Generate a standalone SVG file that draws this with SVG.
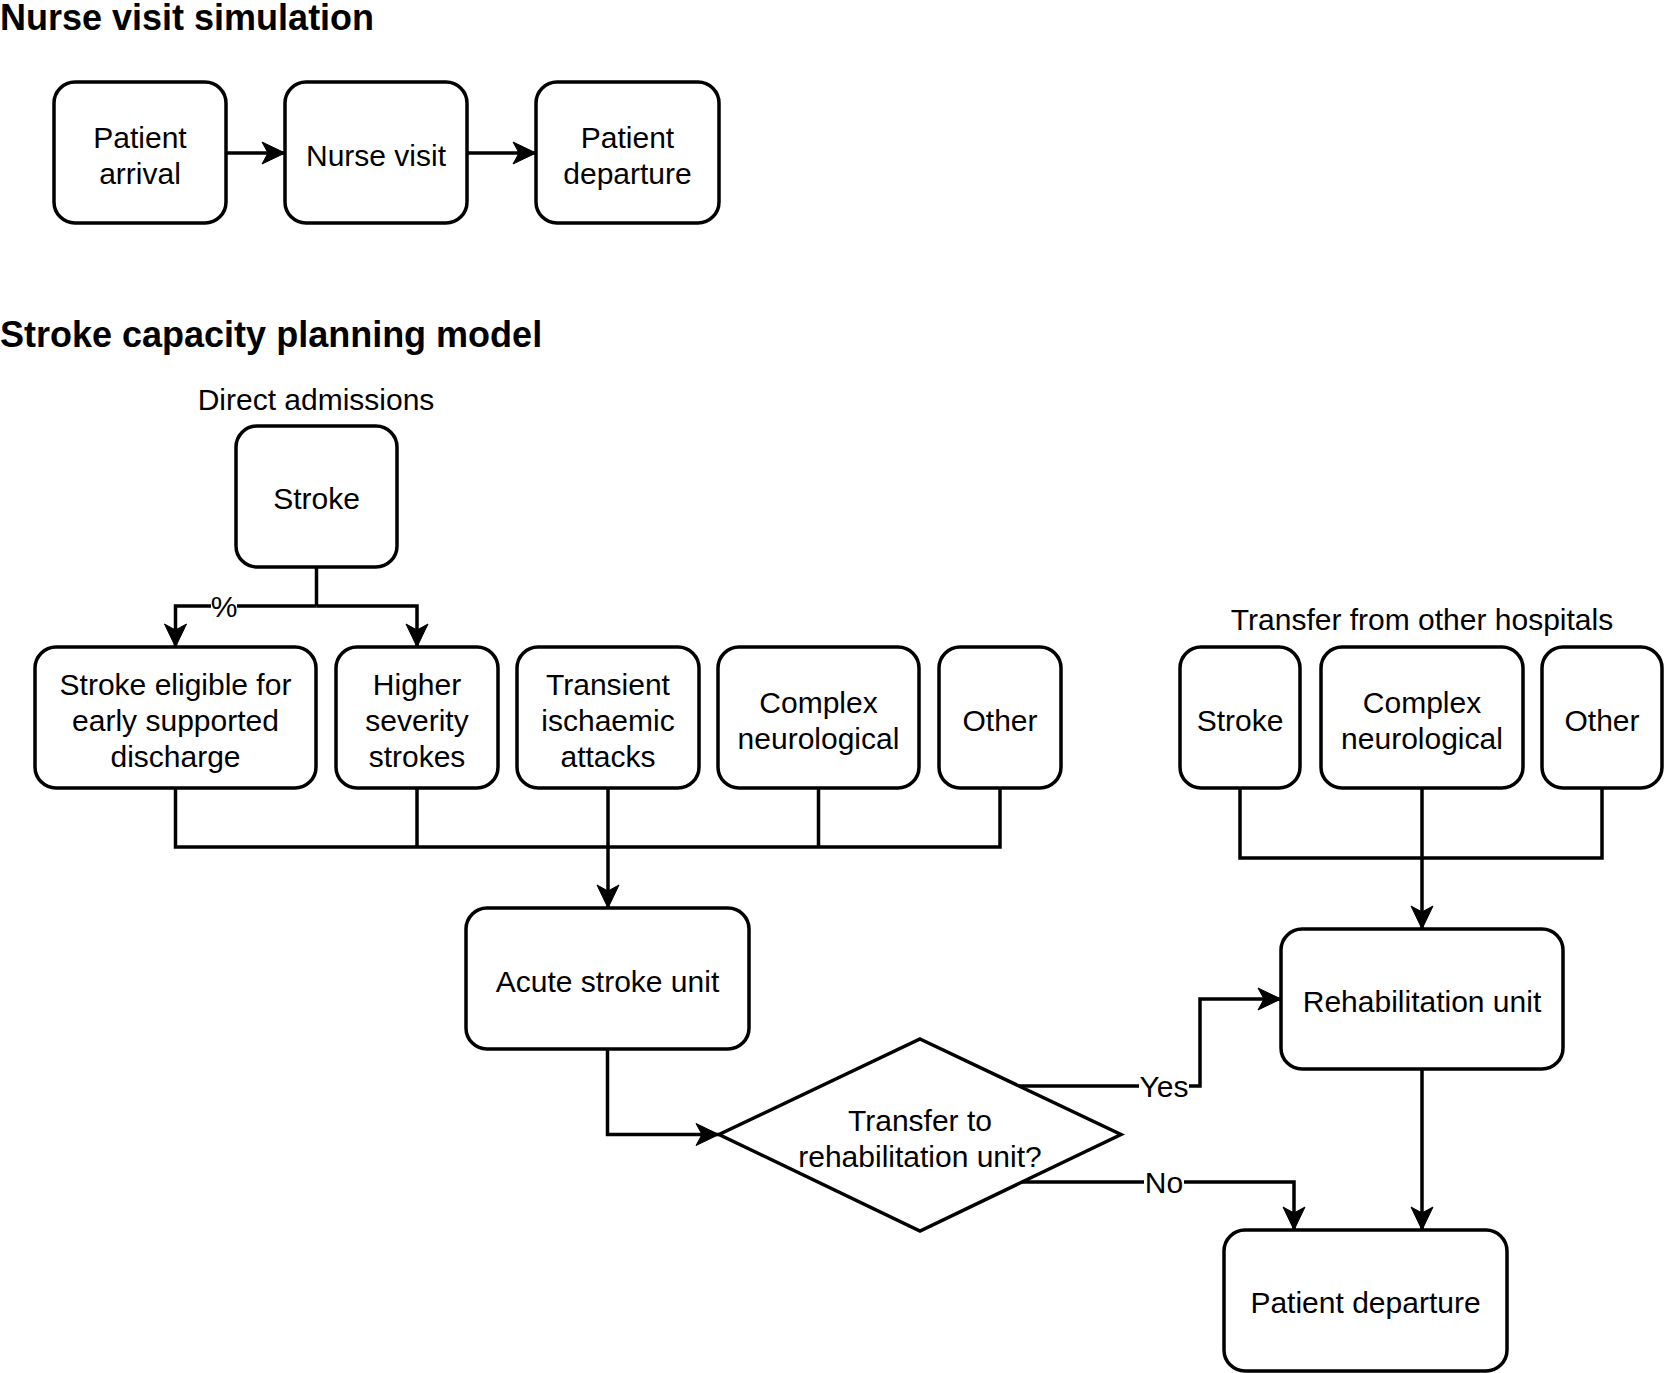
<svg xmlns="http://www.w3.org/2000/svg" width="1665" height="1373" viewBox="0 0 1665 1373">
<style>
  .box { fill: #ffffff; stroke: #000000; stroke-width: 3.5; }
  .t { font-family: "Liberation Sans", Arial, sans-serif; font-size: 30px; fill: #000000; text-anchor: middle; }
  .title { font-family: "Liberation Sans", Arial, sans-serif; font-size: 36px; font-weight: bold; fill: #000000; }
  .lbl { font-family: "Liberation Sans", Arial, sans-serif; font-size: 30px; fill: #000000; text-anchor: middle; }
  .edge { fill: none; stroke: #000000; stroke-width: 3.5; }
  .arr { marker-end: url(#ah); }
</style>
<defs>
  <marker id="ah" viewBox="-1 -12 26 24" markerUnits="userSpaceOnUse" markerWidth="26" markerHeight="24" refX="23" refY="0" orient="auto">
    <path d="M0,-11 L23,0 L0,11 L6,0 Z" fill="#000000" stroke="#000000" stroke-width="1" stroke-linejoin="miter"/>
  </marker>
</defs>
<rect width="1665" height="1373" fill="#ffffff"/>

<text class="title" x="0" y="30">Nurse visit simulation</text>
<text class="title" x="0" y="347">Stroke capacity planning model</text>
<text class="t" x="316" y="410">Direct admissions</text>
<text class="t" x="1422" y="630">Transfer from other hospitals</text>

<g id="connectors">
  <path class="edge arr" d="M226,153 L285,153"/>
  <path class="edge arr" d="M467,153 L536,153"/>
  <path class="edge" d="M316.5,567 L316.5,606"/>
  <path class="edge arr" d="M316.5,606 L175.5,606 L175.5,647"/>
  <path class="edge arr" d="M316.5,606 L417,606 L417,647"/>
  <path class="edge" d="M175.5,788 L175.5,847 L1000,847 L1000,788"/>
  <path class="edge" d="M417,788 L417,847"/>
  <path class="edge" d="M818.5,788 L818.5,847"/>
  <path class="edge arr" d="M608,788 L608,908"/>
  <path class="edge" d="M1240,788 L1240,858 L1602,858 L1602,788"/>
  <path class="edge arr" d="M1422,788 L1422,929"/>
  <path class="edge arr" d="M607.5,1049 L607.5,1134.5 L719,1134.5"/>
  <path class="edge arr" d="M1019,1086 L1200,1086 L1200,999 L1281,999"/>
  <path class="edge arr" d="M1022,1182 L1294,1182 L1294,1230"/>
  <path class="edge arr" d="M1422,1069 L1422,1230"/>
  <rect x="211" y="592" width="26" height="28" fill="#ffffff"/>
  <text class="lbl" x="224" y="617">%</text>
  <rect x="1139" y="1072" width="50" height="28" fill="#ffffff"/>
  <text class="lbl" x="1164" y="1097">Yes</text>
  <rect x="1144" y="1168" width="40" height="28" fill="#ffffff"/>
  <text class="lbl" x="1164" y="1193">No</text>
</g>

<g id="patient-arrival">
  <rect class="box" x="54" y="82" width="172" height="141" rx="21"/>
  <text class="t" x="140" y="148">Patient</text>
  <text class="t" x="140" y="184">arrival</text>
</g>
<g id="nurse-visit">
  <rect class="box" x="285" y="82" width="182" height="141" rx="21"/>
  <text class="t" x="376" y="166">Nurse visit</text>
</g>
<g id="patient-departure-1">
  <rect class="box" x="536" y="82" width="183" height="141" rx="21"/>
  <text class="t" x="627.5" y="148">Patient</text>
  <text class="t" x="627.5" y="184">departure</text>
</g>

<g id="stroke-direct">
  <rect class="box" x="236" y="426" width="161" height="141" rx="21"/>
  <text class="t" x="316.5" y="509">Stroke</text>
</g>
<g id="stroke-esd">
  <rect class="box" x="35" y="647" width="281" height="141" rx="21"/>
  <text class="t" x="175.5" y="695">Stroke eligible for</text>
  <text class="t" x="175.5" y="731">early supported</text>
  <text class="t" x="175.5" y="767">discharge</text>
</g>
<g id="higher-severity">
  <rect class="box" x="336" y="647" width="162" height="141" rx="21"/>
  <text class="t" x="417" y="695">Higher</text>
  <text class="t" x="417" y="731">severity</text>
  <text class="t" x="417" y="767">strokes</text>
</g>
<g id="tia">
  <rect class="box" x="517" y="647" width="182" height="141" rx="21"/>
  <text class="t" x="608" y="695">Transient</text>
  <text class="t" x="608" y="731">ischaemic</text>
  <text class="t" x="608" y="767">attacks</text>
</g>
<g id="complex-direct">
  <rect class="box" x="718" y="647" width="201" height="141" rx="21"/>
  <text class="t" x="818.5" y="713">Complex</text>
  <text class="t" x="818.5" y="749">neurological</text>
</g>
<g id="other-direct">
  <rect class="box" x="939" y="647" width="122" height="141" rx="21"/>
  <text class="t" x="1000" y="731">Other</text>
</g>

<g id="stroke-transfer">
  <rect class="box" x="1180" y="647" width="120" height="141" rx="21"/>
  <text class="t" x="1240" y="731">Stroke</text>
</g>
<g id="complex-transfer">
  <rect class="box" x="1321" y="647" width="202" height="141" rx="21"/>
  <text class="t" x="1422" y="713">Complex</text>
  <text class="t" x="1422" y="749">neurological</text>
</g>
<g id="other-transfer">
  <rect class="box" x="1542" y="647" width="120" height="141" rx="21"/>
  <text class="t" x="1602" y="731">Other</text>
</g>

<g id="acute-stroke-unit">
  <rect class="box" x="466" y="908" width="283" height="141" rx="21"/>
  <text class="t" x="607.5" y="992">Acute stroke unit</text>
</g>
<g id="transfer-decision">
  <polygon class="box" points="920,1039 1121,1134.5 920,1231 719,1134.5"/>
  <text class="t" x="920" y="1131">Transfer to</text>
  <text class="t" x="920" y="1167">rehabilitation unit?</text>
</g>
<g id="rehabilitation-unit">
  <rect class="box" x="1281" y="929" width="282" height="140" rx="21"/>
  <text class="t" x="1422" y="1012">Rehabilitation unit</text>
</g>
<g id="patient-departure-2">
  <rect class="box" x="1224" y="1230" width="283" height="141" rx="21"/>
  <text class="t" x="1365.5" y="1313">Patient departure</text>
</g>
</svg>
